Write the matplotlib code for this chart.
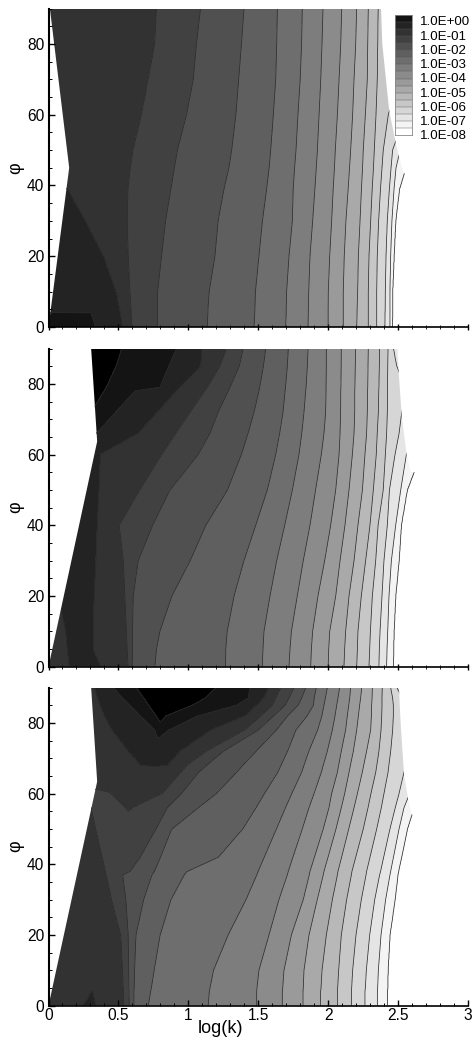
import numpy as np
import matplotlib
matplotlib.use('Agg')
import matplotlib.pyplot as plt
from matplotlib.colors import ListedColormap
from matplotlib.patches import Polygon
from matplotlib.ticker import MultipleLocator

plt.rcParams['font.family'] = ['Liberation Sans', 'DejaVu Sans']
n = np.nan

legend_labels = ['1.0E+00', '1.0E-01', '1.0E-02', '1.0E-03', '1.0E-04',
                 '1.0E-05', '1.0E-06', '1.0E-07', '1.0E-08']
x_labels = ['0', '0.5', '1', '1.5', '2', '2.5', '3']

# k is the contour level, value = 10**(-k/2). each list = log(k) where the level is crossed, per phi row
# every table ends with k=16
p1_phi = [0, 4, 5, 10, 20, 30, 39, 45, 50, 60, 70, 80, 90]
p1_lines = [
    [.338, .307, n, n, n, n, n, n, n, n, n, n, n],
    [.529, .515, .51, .486, .396, .267, .14, -.1, n, n, n, n, n],
    [.596, .59, .59, .582, .57, .563, .568, .585, .605, .665, .713, .76, .772],
    [.78, .78, .78, .78, .808, .837, .875, .90, .922, .987, 1.035, 1.058, 1.087],
    [1.135, 1.14, 1.14, 1.149, 1.19, 1.213, 1.255, 1.29, 1.31, 1.34, 1.36, 1.38, 1.398],
    [1.47, 1.475, 1.476, 1.48, 1.505, 1.53, 1.56, 1.578, 1.589, 1.608, 1.625, 1.632, 1.637],
    [1.696, 1.70, 1.70, 1.703, 1.72, 1.744, 1.75, 1.76, 1.77, 1.784, 1.80, 1.81, 1.815],
    [1.856, 1.858, 1.858, 1.861, 1.87, 1.889, 1.905, 1.915, 1.923, 1.935, 1.947, 1.956, 1.963],
    [2.0, 2.0, 2.0, 2.001, 2.011, 2.025, 2.036, 2.045, 2.051, 2.066, 2.078, 2.09, 2.097],
    [2.108, 2.108, 2.108, 2.108, 2.115, 2.127, 2.143, 2.153, 2.161, 2.175, 2.185, 2.197, 2.204],
    [2.204, 2.207, 2.207, 2.211, 2.216, 2.228, 2.238, 2.246, 2.251, 2.266, 2.28, 2.283, 2.287],
    [2.287, 2.287, 2.287, 2.287, 2.292, 2.304, 2.315, 2.324, 2.33, 2.342, 2.351, 2.354, 2.357],
    [2.347, 2.347, 2.347, 2.347, 2.351, 2.361, 2.374, 2.385, 2.394, 2.43, 2.50, 2.55, 2.6],
    [2.406, 2.407, 2.408, 2.409, 2.414, 2.423, 2.438, 2.45, 2.461, 2.55, 2.62, 2.66, 2.7],
    [2.442, 2.442, 2.442, 2.442, 2.447, 2.456, 2.471, 2.485, 2.515, 2.62, 2.69, 2.73, 2.78],
    [2.459, 2.46, 2.46, 2.461, 2.471, 2.483, 2.51, 2.555, 2.6, 2.7, 2.76, 2.8, 2.85],
]
p1_extra = {}
p1_links = {}
p1_left = [(0, 0), (.148, 45), (.01, 90)]
p1_right = [(2.378, 90), (2.387, 80), (2.436, 61.3), (2.474, 53.8), (2.503, 48.6), (2.542, 43.4), (3.1, 43.4), (3.1, 0)]

p2_phi = [0, 5, 10, 20, 30, 40, 50, 60, 66, 72, 78, 79, 85, 90]
p2_lines = [
    [n, n, n, n, n, n, n, n, n, .31, .40, .415, .485, .524],
    [n, n, n, n, n, n, n, n, .345, .48, .619, .798, .86, .917],
    [.374, .32, .32, .327, .34, .35, .362, .372, .641, .78, .915, .94, 1.09, 1.094],
    [.57, .563, .558, .546, .535, .505, .653, .81, .91, 1.013, 1.118, 1.135, 1.225, 1.273],
    [.598, .60, .60, .605, .641, .744, .868, 1.07, 1.154, 1.213, 1.285, 1.297, 1.364, 1.392],
    [.76, .772, .796, .882, 1.013, 1.125, 1.28, 1.379, 1.427, 1.47, 1.505, 1.51, 1.537, 1.553],
    [1.266, 1.268, 1.278, 1.327, 1.398, 1.482, 1.565, 1.625, 1.653, 1.677, 1.692, 1.695, 1.708, 1.715],
    [1.529, 1.534, 1.541, 1.584, 1.632, 1.689, 1.744, 1.791, 1.811, 1.827, 1.839, 1.842, 1.851, 1.856],
    [1.72, 1.727, 1.737, 1.779, 1.822, 1.87, 1.91, 1.951, 1.97, 1.982, 1.985, 1.985, 1.987, 1.987],
    [1.875, 1.88, 1.889, 1.927, 1.975, 2.018, 2.054, 2.078, 2.085, 2.089, 2.09, 2.091, 2.093, 2.094],
    [2.0, 2.004, 2.011, 2.054, 2.085, 2.12, 2.149, 2.173, 2.185, 2.19, 2.19, 2.191, 2.194, 2.197],
    [2.113, 2.118, 2.125, 2.149, 2.185, 2.213, 2.245, 2.263, 2.275, 2.28, 2.282, 2.283, 2.285, 2.287],
    [2.204, 2.209, 2.213, 2.237, 2.268, 2.299, 2.323, 2.344, 2.351, 2.359, 2.362, 2.363, 2.366, 2.368],
    [2.292, 2.297, 2.302, 2.316, 2.34, 2.357, 2.394, 2.409, 2.418, 2.423, 2.424, 2.424, 2.426, 2.428],
    [2.363, 2.366, 2.371, 2.385, 2.399, 2.423, 2.438, 2.478, 2.507, 2.526, 2.56, 2.55, 2.49, 2.466],
    [2.418, 2.421, 2.426, 2.435, 2.452, 2.483, 2.519, 2.559, 2.62, 2.68, 2.74, 2.75, 2.8, 2.85],
    [2.466, 2.468, 2.471, 2.483, 2.507, 2.523, 2.566, 2.66, 2.72, 2.76, 2.8, 2.82, 2.86, 2.9],
]
p2_extra = {
    0: ([-2, .148, .26], [2.6, 2, 1.6]),
    5: ([-2, .135, .23], [2.6, 2, 1.6]),
    10: ([-2, .123, .22], [2.6, 2, 1.6]),
    20: ([-2, .07, .2], [2.6, 2, 1.6]),
}
p2_links = {}
p2_left = [(0, 0), (.348, 63.7), (.305, 90)]
p2_right = [(2.495, 90), (2.507, 81.7), (2.526, 71), (2.561, 60), (2.59, 55), (3.1, 55), (3.1, 0)]

p3_phi = [0, 4, 5, 10, 20, 30, 37, 38, 42, 50, 56, 60, 66, 68, 72, 78, 82, 85, 87, 90]
p3_lines = [
    [n, n, n, n, n, n, n, n, n, n, n, n, n, n, n, n, .84, 1.03, 1.12, 1.2],
    [n, n, n, n, n, n, n, n, n, n, n, n, n, n, n, .86, 1.07, 1.35, 1.43, 1.44],
    [.339, .317, n, n, n, n, n, n, n, n, n, n, n, .855, .945, 1.165, 1.41, 1.49, 1.54, 1.575],
    [.539, .536, .535, .53, .517, .452, .413, .407, .385, .338, .60, .815, .948, .99, 1.13, 1.405, 1.52, 1.6, 1.625, 1.66],
    [.577, .575, .575, .573, .57, .553, .53, .583, .656, .77, .85, .95, 1.072, 1.13, 1.25, 1.5, 1.61, 1.692, 1.72, 1.755],
    [.61, .61, .612, .615, .625, .68, .74, .757, .80, .88, 1.07, 1.20, 1.345, 1.39, 1.485, 1.63, 1.71, 1.785, 1.81, 1.84],
    [.713, .73, .735, .755, .798, .875, .97, .99, 1.215, 1.39, 1.485, 1.545, 1.64, 1.663, 1.71, 1.77, 1.85, 1.895, 1.90, 1.915],
    [1.142, 1.15, 1.155, 1.18, 1.285, 1.413, 1.49, 1.5, 1.543, 1.63, 1.695, 1.74, 1.81, 1.827, 1.862, 1.925, 1.955, 1.97, 1.98, 1.994],
    [1.489, 1.489, 1.491, 1.505, 1.577, 1.648, 1.708, 1.715, 1.748, 1.815, 1.863, 1.899, 1.951, 1.965, 1.994, 2.03, 2.049, 2.061, 2.07, 2.082],
    [1.672, 1.672, 1.675, 1.684, 1.737, 1.822, 1.865, 1.87, 1.902, 1.965, 2.006, 2.025, 2.066, 2.075, 2.094, 2.125, 2.137, 2.147, 2.154, 2.161],
    [1.82, 1.82, 1.822, 1.827, 1.863, 1.922, 1.965, 1.97, 1.999, 2.056, 2.094, 2.118, 2.149, 2.159, 2.18, 2.204, 2.216, 2.225, 2.232, 2.24],
    [1.946, 1.946, 1.949, 1.956, 1.987, 2.03, 2.066, 2.07, 2.096, 2.147, 2.185, 2.209, 2.244, 2.254, 2.275, 2.304, 2.309, 2.311, 2.314, 2.316],
    [2.066, 2.066, 2.068, 2.075, 2.094, 2.132, 2.166, 2.17, 2.197, 2.251, 2.285, 2.306, 2.34, 2.348, 2.363, 2.378, 2.383, 2.385, 2.385, 2.387],
    [2.166, 2.166, 2.168, 2.175, 2.199, 2.237, 2.271, 2.275, 2.299, 2.347, 2.38, 2.399, 2.428, 2.434, 2.447, 2.461, 2.466, 2.466, 2.461, 2.447],
    [2.263, 2.263, 2.266, 2.273, 2.297, 2.333, 2.368, 2.375, 2.397, 2.442, 2.48, 2.507, 2.542, 2.555, 2.58, 2.6, 2.6, 2.56, 2.53, 2.49],
    [2.352, 2.352, 2.354, 2.359, 2.378, 2.411, 2.442, 2.447, 2.467, 2.507, 2.542, 2.583, 2.65, 2.667, 2.7, 2.72, 2.72, 2.7, 2.68, 2.65],
    [2.423, 2.423, 2.426, 2.428, 2.442, 2.478, 2.499, 2.504, 2.525, 2.566, 2.614, 2.66, 2.72, 2.733, 2.76, 2.78, 2.78, 2.76, 2.74, 2.72],
]
# rows where the level goes dark again before the main crossings start
p3_extra = {
    0: ([-2, .248, .29], [2.6, 2, 1.7]),
    4: ([-2, .31, .313], [2.6, 2, 1.9]),
    56: ([-2, .305, .42, .55, .575], [2.5, 3, 3.4, 3, 2.9]),
    60: ([-2, .45, .62], [3.4, 3, 2.6]),
    68: ([-2, .66, .76], [2.5, 2, 1.8]),
    72: ([-2, .572, .76], [2.5, 2, 1.6]),
    78: ([-2, .455, .76, .80], [2.5, 2, 1, .6]),
    82: ([-2, .40, .655, .77, .80], [2.5, 2, 1, 0, -.5]),
    85: ([-2, .37, .58, .715, .85], [2.5, 2, 1, 0, -.5]),
    87: ([-2, .35, .53, .68, .9], [2.5, 2, 1, 0, -.5]),
    90: ([-2, .331, .462, .627, .9], [2.5, 2, 1, 0, -.5]),
}
# k3 at phi 50 carries on into the lower branch at phi 56, not the main one
p3_links = {50: ([3], [(.338, .305)])}
p3_left = [(0, 0), (.348, 63.4), (.305, 90)]
p3_right = [(2.506, 90), (2.518, 80), (2.542, 65.6), (2.571, 58.7), (2.597, 54), (3.1, 54), (3.1, 0)]

panels = [
    (p1_phi, p1_lines, p1_extra, p1_links, p1_left, p1_right, 327.0, 8.5),
    (p2_phi, p2_lines, p2_extra, p2_links, p2_left, p2_right, 666.7, 348.5),
    (p3_phi, p3_lines, p3_extra, p3_links, p3_left, p3_right, 1005.7, 687.5),
]

W, H = 474.0, 1041.0
xg = np.linspace(-0.5, 3.2, 1500)
levels = np.arange(-1, 17)
grays = [0.0] + [(0x14 + i * (0xf4 - 0x14) / 15.0) / 255.0 for i in range(16)]
band_colors = [(g, g, g) for g in grays]


def getRow(i, p, lines, extra):
    first = 17 - len(lines)
    main = {}
    for j, row in enumerate(lines):
        if not np.isnan(row[i]):
            main[first + j] = row[i]
    lead = {}
    px, pk = [], []
    if p in extra:
        px = list(extra[p][0])
        pk = list(extra[p][1])
        for x, k in zip(px, pk):
            if float(k).is_integer():
                lead[k] = x
    else:
        px.append(-2)
        pk.append(min(main) - 0.5)
    for k in sorted(main):
        px.append(main[k])
        pk.append(k)
    px.append(3.6)
    pk.append(16.5)
    return px, pk, lead, main


def makeField(phi, lines, extra, links):
    # between two rows the shared crossings move in straight lines, the rest is blended
    Z = []
    Y = []
    for i in range(len(phi) - 1):
        ax_, ak, al, am = getRow(i, phi[i], lines, extra)
        bx, bk, bl, bm = getRow(i + 1, phi[i + 1], lines, extra)
        skip, added = links.get(phi[i], ([], []))
        pairs = [(-2.0, -2.0), (3.6, 3.6)] + list(added)
        for k in al:
            if k in bl:
                pairs.append((al[k], bl[k]))
        for k in am:
            if k in bm and k not in skip:
                pairs.append((am[k], bm[k]))
        pairs.sort()
        ca, cb = [], []
        for a, b in pairs:
            if len(ca) == 0 or (a > ca[-1] and b > cb[-1]):
                ca.append(a)
                cb.append(b)
        ca = np.array(ca)
        cb = np.array(cb)
        steps = int(np.ceil((phi[i + 1] - phi[i]) * 2)) + 1
        for t in np.linspace(0, 1, steps, endpoint=False):
            c = (1 - t) * ca + t * cb
            xa = np.interp(xg, c, ca)
            xb = np.interp(xg, c, cb)
            Z.append((1 - t) * np.interp(xa, ax_, ak) + t * np.interp(xb, bx, bk))
            Y.append(phi[i] + t * (phi[i + 1] - phi[i]))
    Z.append(np.interp(xg, bx, bk))
    Y.append(phi[-1])
    return np.array(Y), np.array(Z)


fig = plt.figure(figsize=(4.74, 10.41), dpi=100)

for idx, (phi, lines, extra, links, left, right, y0, y1) in enumerate(panels):
    ax = fig.add_axes([48.5 / W, 1 - y0 / H, 419.5 / W, (y0 - y1) / H])
    Y, Z = makeField(phi, lines, extra, links)
    outline = Polygon(left + right, closed=True, fc='none', ec='none', transform=ax.transData)
    ax.add_patch(outline)
    cf = ax.contourf(xg, Y, Z, levels=levels, colors=band_colors)
    cl = ax.contour(xg, Y, Z, levels=levels[1:], colors='#2a2a2a', linewidths=0.55)
    cf.set_clip_path(outline)
    cl.set_clip_path(outline)

    ax.set_xlim(0, 3)
    ax.set_ylim(0, 90)
    ax.spines['top'].set_visible(False)
    ax.spines['right'].set_visible(False)
    ax.spines['left'].set_linewidth(1.5)
    ax.spines['bottom'].set_linewidth(1.2)
    ax.set_yticks([0, 20, 40, 60, 80])
    ax.yaxis.set_minor_locator(MultipleLocator(5))
    ax.set_xticks(np.arange(0, 3.01, 0.5))
    ax.xaxis.set_minor_locator(MultipleLocator(0.1))
    ax.tick_params(axis='y', which='major', direction='in', length=4.5, width=1, labelsize=11.2, pad=3)
    ax.tick_params(axis='y', which='minor', direction='in', length=2.2, width=0.7)
    if idx < 2:
        ax.tick_params(axis='x', which='major', direction='inout', length=5, width=1, labelbottom=False)
        ax.tick_params(axis='x', which='minor', direction='inout', length=2.4, width=0.6)
    else:
        ax.set_xticklabels(x_labels)
        ax.tick_params(axis='x', which='major', direction='in', length=4.5, width=1, labelsize=11.2, pad=2)
        ax.tick_params(axis='x', which='minor', direction='in', length=2.2, width=0.7)
        ax.set_xlabel('log(k)', fontsize=13)
        ax.xaxis.set_label_coords(0.41, -0.044)
    ax.set_ylabel('φ', fontsize=13)
    ax.yaxis.set_label_coords(-0.058, 0.5)

# legend
leg = fig.add_axes([394.7 / W, 1 - 135.0 / H, 17.6 / W, 120.0 / H])
swatch = np.arange(17).reshape(-1, 1)
leg_colors = band_colors[1:] + [(1, 1, 1)]
leg.pcolormesh([0, 1], np.arange(18), swatch, cmap=ListedColormap(leg_colors), vmin=-0.5, vmax=16.5)
leg.hlines(np.arange(1, 17), 0, 1, colors='#555555', linewidths=0.3)
leg.set_xlim(0, 1)
leg.set_ylim(17, 0)
leg.set_xticks([])
leg.set_yticks([])
for s in leg.spines.values():
    s.set_linewidth(0.6)
    s.set_color('#888888')
for i, lab in enumerate(legend_labels):
    leg.text(1.45, 2.018 * i + 1.05, lab, fontsize=9.6, va='center', ha='left')

fig.savefig('out.png', dpi=100)
